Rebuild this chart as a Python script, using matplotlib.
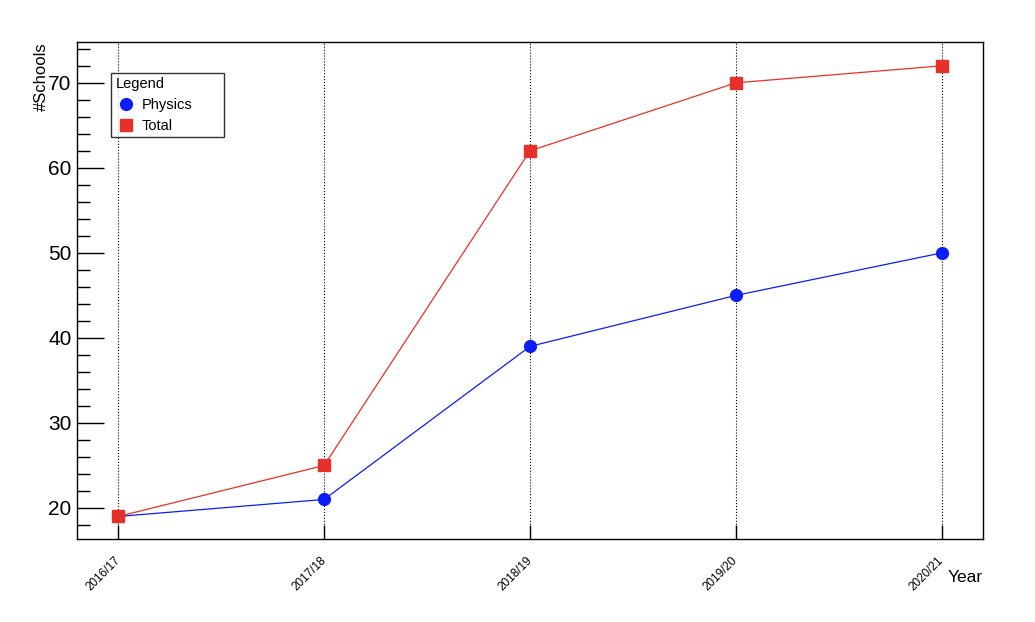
import matplotlib.pyplot as plt
from matplotlib.ticker import MultipleLocator

plt.rcParams['font.family'] = ['Liberation Sans', 'DejaVu Sans']

# Datos
anios = ['2016/17', '2017/18', '2018/19', '2019/20', '2020/21']
fisica = [19, 21, 39, 45, 50]
total = [19, 25, 62, 70, 72]

x = list(range(len(anios)))

fig = plt.figure(figsize=(10.35, 6.22), dpi=100)
ax = fig.add_axes([77 / 1035, 1 - 539 / 622, (983 - 77) / 1035, (539 - 42) / 622])

ax.plot(x, fisica, color='#0a1ef5', marker='o', markersize=8.5, linewidth=0.9, label='Physics', zorder=3)
ax.plot(x, total, color='#e8302a', marker='s', markersize=8, linewidth=0.9, label='Total', zorder=3)

ax.set_xlim(-0.2, 4.2)
ax.set_ylim(16.35, 74.8)

ax.set_xticks(x)
ax.set_xticklabels(anios, rotation=45, ha='right', va='center', fontsize=8.5, rotation_mode='anchor')
ax.tick_params(axis='x', direction='in', length=10, width=1, top=False, pad=14)
ax.grid(axis='x', linestyle=':', color='black', linewidth=0.8)

ax.yaxis.set_major_locator(MultipleLocator(10))
ax.yaxis.set_minor_locator(MultipleLocator(2))
ax.tick_params(axis='y', which='major', direction='in', length=19.4, width=1, labelsize=15, right=False, pad=4)
ax.tick_params(axis='y', which='minor', direction='in', length=9.4, width=1, right=False)
ax.tick_params(axis='x', which='minor', bottom=False)

for s in ax.spines.values():
    s.set_linewidth(1)

fig.text(983 / 1035, 1 - 577 / 622, 'Year', ha='right', va='center', fontsize=12.5)
fig.text(41 / 1035, 1 - 42 / 622, '#Schools', ha='center', va='top', rotation=90, fontsize=12)

leg = ax.legend(loc='upper left',
                bbox_to_anchor=((111 - 77) / 906, 1 - (73 - 42) / 497, (224 - 111) / 906, 0.0),
                mode='expand', title='Legend', fontsize=10.5, title_fontsize=10.5,
                frameon=True, fancybox=False, edgecolor='black', borderpad=0.3,
                handletextpad=0.3, handlelength=1.5, labelspacing=0.45, borderaxespad=0)
leg._legend_box.align = 'left'
leg._legend_box.sep = 5
leg.get_frame().set_linewidth(1)
for h in leg.get_lines():
    h.set_linestyle('none')

fig.savefig('out.png', dpi=100)
